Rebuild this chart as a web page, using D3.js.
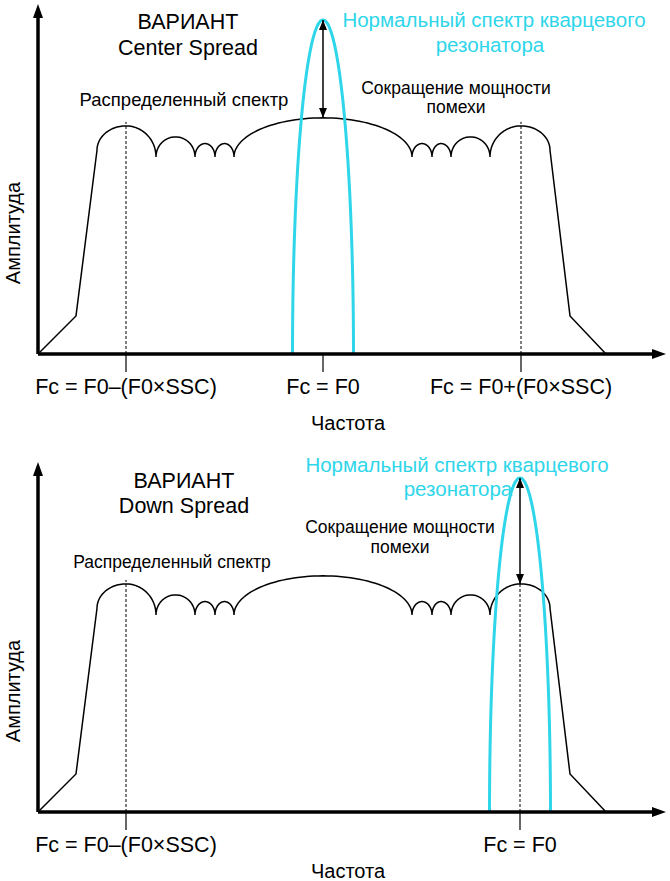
<!DOCTYPE html>
<html><head><meta charset="utf-8">
<script src="https://cdn.jsdelivr.net/npm/d3@7"></script>
<style>body{margin:0;background:#fff}text{font-family:"Liberation Sans",Arial,sans-serif}</style>
</head><body><svg id="c" width="670" height="881"></svg>
<script>
// frequency units: 0 = axis origin; amplitude: 0 = baseline, 100 = crystal peak
const edgePoints = [[0,0],[38,11.4],[59,61]];           // left rising edge
const lobes = [ // [startFreq, peakFreq, endFreq, startAmp, peakAmp, endAmp]
  [59,88,118,61,68.3,59],
  [118,137.5,157,59,65,59],
  [157,167,177,59,63,59],
  [177,186.5,196,59,63,59],
  [196,285,374,59,70.7,59],
  [374,384,394,59,63,59],
  [394,403,413,59,63,59],
  [413,432.5,452,59,65,59],
  [452,483,512,59,68.3,61]
];
const edgePointsR = [[512,61],[532,11.4],[568,0]];
const panels = [
  {name:"Center Spread", top:0, base:354, peakY:20, carrier:285, xlabOff:76,
   ticks:[88,285,483], tickLabels:["Fc = F0–(F0×SSC)","Fc = F0","Fc = F0+(F0×SSC)"]},
  {name:"Down Spread", top:458, base:812, peakY:478, carrier:482, xlabOff:66,
   ticks:[88,482], tickLabels:["Fc = F0–(F0×SSC)","Fc = F0"]}
];
const crystalHalfWidth = 30.5;
const cyan = "#2fd6ea";

const svg = d3.select("#c");
const defs = svg.append("defs");
defs.append("marker").attr("id","ah").attr("viewBox","0 0 10 10").attr("refX",10).attr("refY",5)
  .attr("markerWidth",10).attr("markerHeight",10).attr("markerUnits","userSpaceOnUse").attr("orient","auto-start-reverse")
  .append("path").attr("d","M0,1L10,5L0,9Z").attr("fill","#000");
defs.append("marker").attr("id","ax").attr("viewBox","0 0 14 10").attr("refX",2).attr("refY",5)
  .attr("markerWidth",14).attr("markerHeight",10).attr("markerUnits","userSpaceOnUse").attr("orient","auto")
  .append("path").attr("d","M0,0L14,5L0,10Z").attr("fill","#000");

function buildSpectrum(){
  const pts = edgePoints.slice();
  lobes.forEach(([a,p,b,sa,pa,ea])=>{
    const n=30;
    for(let i=1;i<=n;i++){const t=i/n; const x=p-(p-a)*Math.cos(t*Math.PI/2); pts.push([x, sa+(pa-sa)*Math.sin(t*Math.PI/2)]);}
    for(let i=1;i<=n;i++){const t=i/n; const x=p+(b-p)*Math.sin(t*Math.PI/2); pts.push([x, ea+(pa-ea)*Math.cos(t*Math.PI/2)]);}
  });
  return pts.concat(edgePointsR.slice(1));
}
const spectrum = buildSpectrum();

panels.forEach(P=>{
  const x = d3.scaleLinear().domain([0,630]).range([38,668]);
  const y = d3.scaleLinear().domain([0,100]).range([P.base,P.peakY]);
  const g = svg.append("g");
  const line = d3.line().x(d=>x(d[0])).y(d=>y(d[1]));
  P.ticks.forEach(t=>{
    if(t!==P.carrier || P.name==="Down Spread")
      g.append("line").attr("x1",x(t)).attr("x2",x(t)).attr("y1",y(0)).attr("y2",y(68.3)-4)
        .attr("stroke","#000").attr("stroke-width",1).attr("stroke-dasharray","3,2");
  });
  g.append("path").attr("d",line(spectrum)).attr("fill","none").attr("stroke","#000").attr("stroke-width",1.5);
  const cr=[]; for(let i=0;i<=80;i++){const th=Math.PI*i/80; cr.push([P.carrier-crystalHalfWidth*Math.cos(th),100*Math.sin(th)]);}
  g.append("path").attr("d",line(cr)).attr("fill","none").attr("stroke",cyan).attr("stroke-width",3);
  const lvl = P.name==="Center Spread"?70.7:68.3;
  g.append("line").attr("x1",x(P.carrier)).attr("x2",x(P.carrier)).attr("y1",y(100)).attr("y2",y(lvl))
    .attr("stroke","#000").attr("stroke-width",1.5).attr("marker-start","url(#ah)").attr("marker-end","url(#ah)");
  g.append("line").attr("x1",x(0)).attr("x2",x(630)-14).attr("y1",y(0)).attr("y2",y(0)).attr("stroke","#000").attr("stroke-width",3.5).attr("marker-end","url(#ax)");
  g.append("line").attr("x1",x(0)).attr("x2",x(0)).attr("y1",y(0)).attr("y2",P.top+16).attr("stroke","#000").attr("stroke-width",3.5).attr("marker-end","url(#ax)");
  P.ticks.forEach((t,i)=>{
    g.append("line").attr("x1",x(t)).attr("x2",x(t)).attr("y1",y(0)).attr("y2",y(0)+18).attr("stroke","#000").attr("stroke-width",1.2);
    g.append("text").attr("x",x(t)).attr("y",y(0)+40).attr("text-anchor","middle").attr("font-size",21.5).text(P.tickLabels[i]);
  });
  g.append("text").attr("x",348).attr("y",y(0)+P.xlabOff).attr("text-anchor","middle").attr("font-size",20).text("Частота");
  g.append("text").attr("transform",`translate(20,${P.top+233}) rotate(-90)`).attr("text-anchor","middle").attr("font-size",20).text("Амплитуда");
});

function txt(xp,yp,s,size,col){svg.append("text").attr("x",xp).attr("y",yp).attr("text-anchor","middle").attr("font-size",size).attr("fill",col||"#000").text(s);}
txt(188,29,"ВАРИАНТ",21.5); txt(188,55,"Center Spread",21.5);
txt(494,27,"Нормальный спектр кварцевого",20.5,cyan); txt(490,52,"резонатора",20.5,cyan);
txt(184,106,"Распределенный спектр",18.5);
txt(456,94,"Сокращение мощности",17.5); txt(456,113,"помехи",17.5);
txt(184,488,"ВАРИАНТ",21.5); txt(184,513,"Down Spread",21.5);
txt(457,472,"Нормальный спектр кварцевого",20.5,cyan); txt(458,496,"резонатора",20.5,cyan);
txt(400,533,"Сокращение мощности",17.5); txt(400,553,"помехи",17.5);
txt(172,568,"Распределенный спектр",17.5);
</script></body></html>
